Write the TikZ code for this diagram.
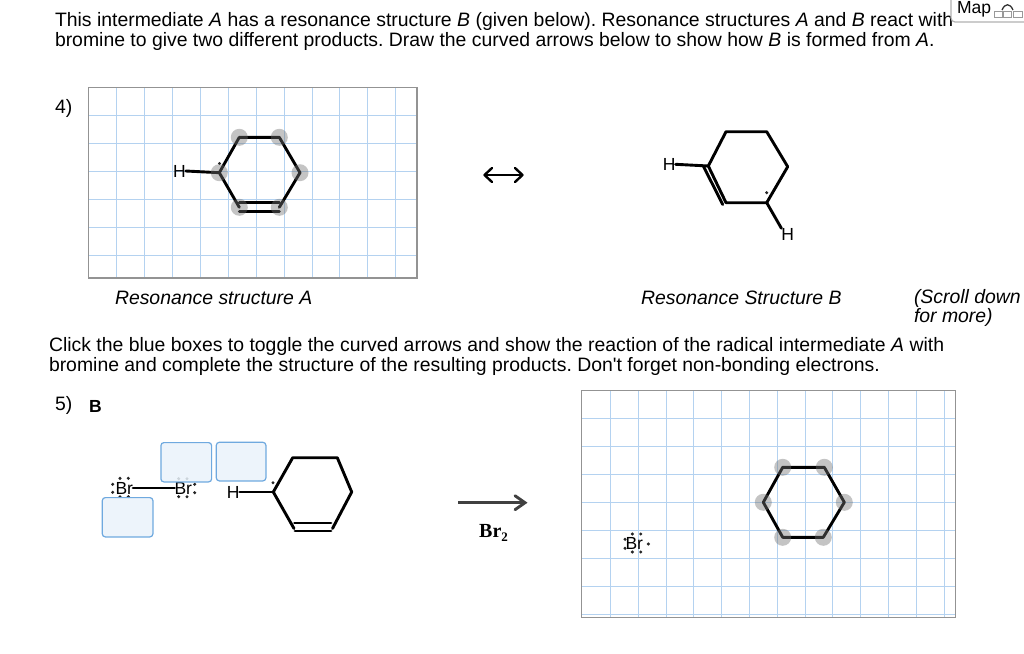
\documentclass[tikz,border=0pt]{standalone}
\usepackage{fontspec}
\setmainfont{Liberation Sans}
\newfontfamily\timesf{Liberation Serif}
\newfontfamily\plainf{Liberation Sans}
\definecolor{gridblue}{HTML}{B4D2F0}
\definecolor{boxline}{HTML}{6FA9DF}
\definecolor{boxfill}{HTML}{EAF3FB}
\frenchspacing
\tikzset{
  txt/.style={anchor=base west,inner sep=0,outer sep=0,font=\fontsize{19.4}{20}\selectfont\frenchspacing},
  itxt/.style={txt,font=\fontsize{19.4}{20}\selectfont\itshape},
  atom/.style={inner sep=0,outer sep=0,font=\fontsize{17.5}{18}\selectfont},
  bond/.style={draw=black,line width=2.9pt,line cap=round,line join=round},
  hl/.style={circle,fill=black!55,fill opacity=.42,draw=none,minimum size=17pt,inner sep=0},
  gridline/.style={draw=gridblue,line width=1.6pt},
  gridframe/.style={draw=gray!85,line width=1.3pt},
  bluebox/.style={draw=boxline,fill=boxfill,fill opacity=.85,line width=1.2pt,rounded corners=3pt},
  edot/.style={circle,fill=black!85,draw=none,minimum size=3.4pt,inner sep=0},
  thin arrow/.style={draw=black!75,line width=2.9pt}
}
\begin{document}
\begin{tikzpicture}[x=1pt,y=-1pt]
\useasboundingbox (0,0) rectangle (1024,653);
\fill[white] (0,0) rectangle (1024,653);
% Text
\node[txt] (t1) at (55,26) {This intermediate \textit{A} has a resonance structure \textit{B} (given below). Resonance structures \textit{A} and \textit{B} react with};
\node[txt] (t2) at (55,46) {bromine to give two different products. Draw the curved arrows below to show how \textit{B} is formed from \textit{A}.};
\node[txt] (n4) at (55,113) {4)};
\node[itxt] (ra) at (115,304) {Resonance structure A};
\node[itxt] (rb) at (641,304) {Resonance Structure B};
\node[itxt] (s1) at (914,303) {(Scroll down};
\node[itxt] (s2) at (914,322) {for more)};
\node[txt] (c1) at (49,351) {Click the blue boxes to toggle the curved arrows and show the reaction of the radical intermediate \textit{A} with};
\node[txt] (c2) at (49,371) {bromine and complete the structure of the resulting products. Don{\plainf '}t forget non-bonding electrons.};
\node[txt] (n5) at (55,410) {5)};
\node[txt,font=\fontsize{17.5}{20}\selectfont\bfseries] (bl) at (89,412) {B};
% Map tab
\draw[draw=gray!60,fill=white,line width=1.2pt,rounded corners=4pt] (951,-6) -- (951,22) -- (1030,22) -- (1030,-6);
\node[atom,anchor=base west,font=\fontsize{17.5}{18}\selectfont] (map) at (957,13) {Map};
\draw[gray!80,line width=.8pt] (994,11) rectangle (1002,17) (1003,11) rectangle (1011,17) (1013,11) rectangle (1022,17);
\draw[black!80,line width=1.3pt] (1002,10) .. controls (1005,3) and (1010,3) .. (1013,10);
% Grid A
\foreach \x in {116.3,144.3,172.3,200.3,228.3,256.3,284.3,312.3,339.3,367.3,395.3}
  \draw[gridline] (\x,87.3) -- (\x,278);
\foreach \y in {115.3,143.3,171.3,199.3,227.3,255.3}
  \draw[gridline] (88.3,\y) -- (417,\y);
\draw[gridframe] (88.3,87.3) rectangle (417,278);
% Structure A
\coordinate (a1) at (239.3,137.3);
\coordinate (a2) at (279.3,137.3);
\coordinate (a3) at (300,172.7);
\coordinate (a4) at (279.3,207.3);
\coordinate (a5) at (239.3,207.3);
\coordinate (a6) at (219.3,172.7);
\draw[bond] (a1) -- (a2) -- (a3) -- (a4) (a5) -- (a6) -- (a1);
\draw[bond] ([yshift=-4pt]a5) -- ([yshift=-4pt]a4);
\draw[bond] ([yshift=4.5pt]a5) -- ([yshift=4.5pt]a4);
\node[atom] (ah) at (179.5,171) {H};
\draw[bond] (ah.east) -- (a6);
\node[edot] (ad) at (219.5,163.5) {};
\foreach \p in {a1,a2,a3,a4,a5,a6} \node[hl] at (\p) {};
% Resonance arrow
\coordinate (ra1) at (484.5,175);
\coordinate (ra2) at (522.5,175);
\draw[bond,line width=2.4pt,line cap=butt] (ra1) -- (ra2);
\draw[bond,line width=2.4pt] (492,168) -- (ra1) -- (492,182);
\draw[bond,line width=2.4pt] (515,168) -- (ra2) -- (515,182);
% Structure B
\coordinate (b1) at (726,131.7);
\coordinate (b2) at (766.7,131.7);
\coordinate (b3) at (787.7,166.7);
\coordinate (b4) at (766.7,202.7);
\coordinate (b5) at (726,202.7);
\coordinate (b6) at (708.3,166);
\coordinate (b7) at (703.3,166);
\coordinate (b8) at (722.7,204.5);
\draw[bond] (b6) -- (b1) -- (b2) -- (b3) -- (b4) -- (b5);
\draw[bond] (b5) -- (b6);
\draw[bond] (b7) -- (b8);
\node[atom] (bh1) at (669.3,164.3) {H};
\node[atom] (bh2) at (787.7,234.3) {H};
\draw[bond] (bh1.east) -- (b6);
\draw[bond] (b4) -- (bh2.north west);
\node[edot] (bd) at (766.7,192.7) {};
% Lower left: Br-Br
\node[atom] (br1) at (124.3,488) {Br};
\node[atom] (br2) at (183.3,488) {Br};
\draw[bond] (br1.east) -- (br2.west);
\foreach \p in {(120,478.3),(128.3,478.3),(120,496.7),(128.3,496.7),(112.7,484.3),(112.7,492.3),(178.7,478.7),(187,478.7),(178.7,496.7),(187,496.7),(194.7,484.3),(194.7,492.7)}
  \node[edot] at \p {};
\node[bluebox,minimum width=50.7pt,minimum height=39.3pt,anchor=north west] (bx1) at (160.3,442) {};
\node[bluebox,minimum width=49.6pt,minimum height=38.6pt,anchor=north west] (bx2) at (215.7,441.7) {};
\node[bluebox,minimum width=50.6pt,minimum height=39.3pt,anchor=north west] (bx3) at (101.7,497) {};
% Lower ring
\coordinate (c1) at (273.3,492);
\coordinate (c2) at (292.7,457.7);
\coordinate (c3) at (337.3,457.7);
\coordinate (c4) at (351.7,492);
\coordinate (c5) at (332.5,528.5);
\coordinate (c6) at (294,528.5);
\draw[bond] (c6) -- (c1) -- (c2) -- (c3) -- (c4) -- (c5);
\draw[bond] (294.5,523) -- (331,523);
\draw[bond] (295,531) -- (331,531);
\node[atom] (ch) at (233.3,492) {H};
\draw[bond] (ch.east) -- (c1);
\node[edot] (cd) at (273,482.7) {};
% Reaction arrow
\coordinate (ar1) at (458.3,502.7);
\coordinate (ar2) at (525,502.7);
\draw[thin arrow] (ar1) -- (ar2);
\draw[thin arrow,line cap=round,line join=miter] (515,495.7) -- (ar2) -- (515,509.7);
\node[anchor=base west,inner sep=0,font=\timesf\bfseries\fontsize{20}{20}\selectfont] (br2l) at (479,537) {Br\raisebox{-4.5pt}{\fontsize{13}{13}\selectfont 2}};
% Grid B
\foreach \x in {610.3,638.3,666.3,693.3,721.3,749.3,777.3,805.3,832.3,860.3,888.3,916.3,944.3}
  \draw[gridline] (\x,390.7) -- (\x,617.3);
\foreach \y in {418.3,446.3,474.3,502.3,530.3,558.3,586.3,614.3}
  \draw[gridline] (581.7,\y) -- (955.7,\y);
\draw[gridframe] (581.7,390.7) rectangle (955.7,617.3);
% Hexagon in grid B
\coordinate (d1) at (782.7,467.3);
\coordinate (d2) at (824.3,467.3);
\coordinate (d3) at (844.3,502.3);
\coordinate (d4) at (823.3,537.3);
\coordinate (d5) at (782.7,537.3);
\coordinate (d6) at (763.3,502.3);
\draw[bond] (d1) -- (d2) -- (d3) -- (d4) -- (d5) -- (d6) -- cycle;
\foreach \p in {d1,d2,d3,d4,d5,d6} \node[hl] at (\p) {};
% Br radical
\node[atom] (br3) at (634.3,543.3) {Br};
\foreach \p in {(632.3,534),(640.7,534),(632.3,552),(640.7,552),(625,539.3),(625,548.3),(648.3,544)}
  \node[edot] at \p {};
\end{tikzpicture}
\end{document}
